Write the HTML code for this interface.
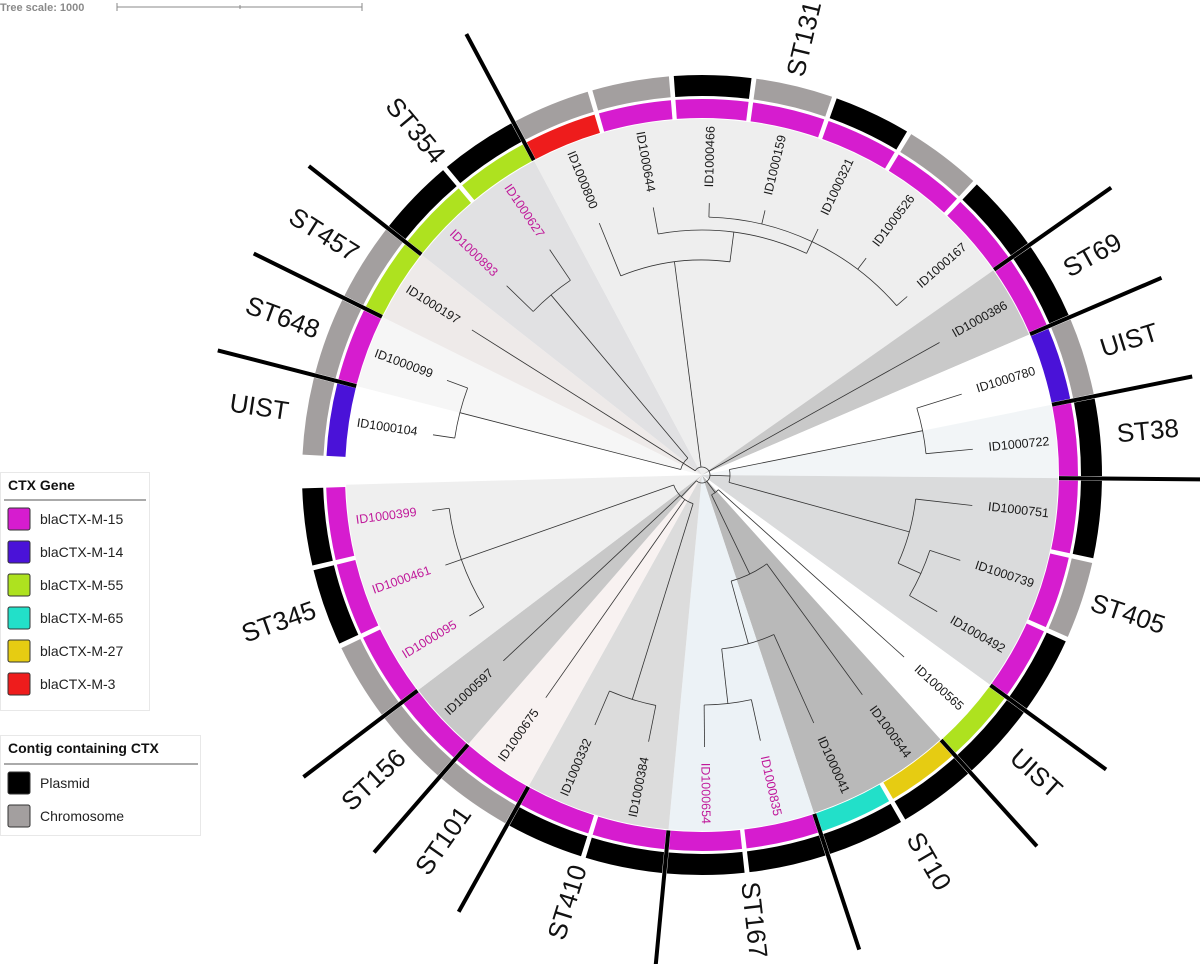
<!DOCTYPE html>
<html><head><meta charset="utf-8"><style>
body{margin:0;background:#fff;width:1200px;height:964px;overflow:hidden;font-family:"Liberation Sans",sans-serif}
svg{position:absolute;left:0;top:0}
</style></head><body>
<svg id="chart" width="1200" height="964">
 <g id="wedges"></g>
 <g id="branches"></g>
 <g id="rings"></g>
 <g id="labels"></g>
 <g id="groups"></g>
 <g>
  <text x="0" y="11" font-size="11" font-weight="bold" fill="#8a8a8a">Tree scale: 1000</text>
  <line x1="117" y1="7" x2="362" y2="7" stroke="#8a8a8a" stroke-width="1"/>
  <line x1="117" y1="3" x2="117" y2="11" stroke="#8a8a8a"/><line x1="240" y1="5" x2="240" y2="9" stroke="#8a8a8a"/><line x1="362" y1="3" x2="362" y2="11" stroke="#8a8a8a"/>
 </g>
 <g>
  <rect x="0.5" y="472.5" width="149" height="238" fill="#fff" stroke="#e8e8e8"/>
  <text x="8" y="490" font-size="14" font-weight="bold" fill="#111">CTX Gene</text>
  <line x1="4" y1="500" x2="146" y2="500" stroke="#555"/>
  <rect x="8" y="508" width="22" height="22" fill="#d61ccf" stroke="#333" rx="2"/><text x="40" y="524" font-size="14" fill="#222">blaCTX-M-15</text>
  <rect x="8" y="541" width="22" height="22" fill="#4a12d8" stroke="#333" rx="2"/><text x="40" y="557" font-size="14" fill="#222">blaCTX-M-14</text>
  <rect x="8" y="574" width="22" height="22" fill="#aee21f" stroke="#333" rx="2"/><text x="40" y="590" font-size="14" fill="#222">blaCTX-M-55</text>
  <rect x="8" y="607" width="22" height="22" fill="#22e0c9" stroke="#333" rx="2"/><text x="40" y="623" font-size="14" fill="#222">blaCTX-M-65</text>
  <rect x="8" y="640" width="22" height="22" fill="#e6cc12" stroke="#333" rx="2"/><text x="40" y="656" font-size="14" fill="#222">blaCTX-M-27</text>
  <rect x="8" y="673" width="22" height="22" fill="#ee1c1c" stroke="#333" rx="2"/><text x="40" y="689" font-size="14" fill="#222">blaCTX-M-3</text>
 </g>
 <g>
  <rect x="0.5" y="735.5" width="200" height="100" fill="#fff" stroke="#e8e8e8"/>
  <text x="8" y="753" font-size="14" font-weight="bold" fill="#111">Contig containing CTX</text>
  <line x1="4" y1="764" x2="198" y2="764" stroke="#555"/>
  <rect x="8" y="772" width="22" height="22" fill="#000" stroke="#333" rx="2"/><text x="40" y="788" font-size="14" fill="#222">Plasmid</text>
  <rect x="8" y="805" width="22" height="22" fill="#a39f9f" stroke="#333" rx="2"/><text x="40" y="821" font-size="14" fill="#222">Chromosome</text>
 </g>
</svg>
<script>
const leaves=["ID1000104","ID1000099","ID1000197","ID1000893","ID1000627","ID1000800","ID1000644","ID1000466","ID1000159","ID1000321","ID1000526","ID1000167","ID1000386","ID1000780","ID1000722","ID1000751","ID1000739","ID1000492","ID1000565","ID1000544","ID1000041","ID1000835","ID1000654","ID1000384","ID1000332","ID1000675","ID1000597","ID1000095","ID1000461","ID1000399"];
const genes=["M-14","M-15","M-55","M-55","M-55","M-3","M-15","M-15","M-15","M-15","M-15","M-15","M-15","M-14","M-15","M-15","M-15","M-15","M-55","M-27","M-65","M-15","M-15","M-15","M-15","M-15","M-15","M-15","M-15","M-15"];
const contigs=["C","C","C","P","P","C","C","P","C","P","C","P","P","C","P","P","C","P","P","P","P","P","P","P","P","C","C","C","P","P"];
const highlighted=[3,4,21,22,27,28,29];
const groupNames=["UIST","ST648","ST457","ST354","ST131","ST69","UIST","ST38","ST405","UIST","ST10","ST167","ST410","ST101","ST156","ST345"];
const groupStarts=[0,1,2,3,5,12,13,14,15,18,19,21,23,25,26,27];
const groupShade=["#ffffff","#f6f6f6","#eeeae9","#e1e1e3","#eeeeee","#c9c9c9","#ffffff","#f2f5f7","#dadbdc","#ffffff","#b9b9b9","#ecf2f6","#dcdcdc","#f8f2f1","#c8c8c8","#efefef"];
// tree: internal nodes [radius, children]; numbers are leaf indices
const tree=[8,[[22,[[250,[0,1]],2,[235,[3,4]]]],[16,[[215,[5,[245,[6,[258,[7,8,9,10,11]]]]]]]],12,[28,[[225,[13,14]],[215,[15,[240,[16,17]]]]]],[22,[18,[110,[19,[175,[20,[230,[21,22]]]]]]]],[30,[[235,[23,24]],25,26,[255,[27,28,29]]]]]];
const tipR=272;

const NS="http://www.w3.org/2000/svg",cx=702,cy=475,N=leaves.length,gapDeg=16,step=(360-gapDeg)/(N-1),start=278.5;
const geneColor={"M-15":"#d61ccf","M-14":"#4a12d8","M-55":"#aee21f","M-65":"#22e0c9","M-27":"#e6cc12","M-3":"#ee1c1c"};
const contigColor={"P":"#000000","C":"#a39f9f"};
function ang(i){return start+i*step;}
function pt(a,r){const t=a*Math.PI/180;return [cx+r*Math.sin(t),cy-r*Math.cos(t)];}
function mk(tag,attrs,parent){const e=document.createElementNS(NS,tag);for(const k in attrs)e.setAttribute(k,attrs[k]);parent.appendChild(e);return e;}
function sector(a0,a1,r0,r1){const p0=pt(a0,r1),p1=pt(a1,r1),p2=pt(a1,r0),p3=pt(a0,r0),lg=(a1-a0)>180?1:0;
 return `M${p0[0]},${p0[1]}A${r1},${r1} 0 ${lg} 1 ${p1[0]},${p1[1]}L${p2[0]},${p2[1]}`+(r0>0?`A${r0},${r0} 0 ${lg} 0 ${p3[0]},${p3[1]}`:'')+'Z';}
const G=id=>document.getElementById(id);
// wedges
groupStarts.forEach((s,g)=>{const e=(g+1<groupStarts.length?groupStarts[g+1]:N)-1;
 const p=mk('path',{d:sector(ang(s)-step/2,ang(e)+step/2,0,356),fill:groupShade[g]},G('wedges'));
 
 });
// tree
function draw(node){if(typeof node==='number')return {a:ang(node),r:tipR};
 const r=node[0],kids=node[1].map(draw);const as=kids.map(k=>k.a),a0=Math.min(...as),a1=Math.max(...as);
 kids.forEach(k=>{const p=pt(k.a,r),q=pt(k.a,k.r);const l=mk('line',{x1:p[0],y1:p[1],x2:q[0],y2:q[1],stroke:'#333','stroke-width':0.8},G('branches'));
  
  });
 if(r>0&&a1>a0){const p=pt(a0,r),q=pt(a1,r);const c=mk('path',{d:`M${p[0]},${p[1]}A${r},${r} 0 ${a1-a0>180?1:0} 1 ${q[0]},${q[1]}`,fill:'none',stroke:'#333','stroke-width':0.8},G('branches'));
  
  }
 return {a:(a0+a1)/2,r:r};}
draw(tree);
// rings + labels
leaves.forEach((id,i)=>{const a=ang(i),g=0.35;
 const s1=mk('path',{d:sector(a-step/2+g,a+step/2-g,357,376),fill:geneColor[genes[i]]},G('rings'));
 
 
 const s2=mk('path',{d:sector(a-step/2+g,a+step/2-g,379,400),fill:contigColor[contigs[i]]},G('rings'));
 
 
 const na=((a%360)+360)%360,phi=na-90,right=na<180,p=pt(na,349);
 const t=mk('text',{x:p[0],y:p[1],'font-size':12.5,fill:highlighted.includes(i)?'#c0189a':'#1a1a1a','dominant-baseline':'middle','text-anchor':right?'end':'start',transform:`rotate(${right?phi:phi+180},${p[0]},${p[1]})`},G('labels'));
 t.textContent=id;
 
 });
// group labels and divider lines
groupStarts.forEach((s,g)=>{const e=(g+1<groupStarts.length?groupStarts[g+1]:N)-1;
 const mid=((((ang(s)+ang(e))/2)%360)+360)%360,phi=mid-90,right=mid<180,p=pt(mid,448);
 const t=mk('text',{x:p[0],y:p[1],'font-size':26,fill:'#111','dominant-baseline':'middle','text-anchor':'middle',transform:`rotate(${right?phi:phi+180},${p[0]},${p[1]})`},G('groups'));
 t.textContent=groupNames[g];
 
 
 if(g>0){const b=ang(s)-step/2,p0=pt(b,357),p1=pt(b,500);
  const l=mk('line',{x1:p0[0],y1:p0[1],x2:p1[0],y2:p1[1],stroke:'#000','stroke-width':4},G('groups'));
  
  }});
</script>
</body></html>
